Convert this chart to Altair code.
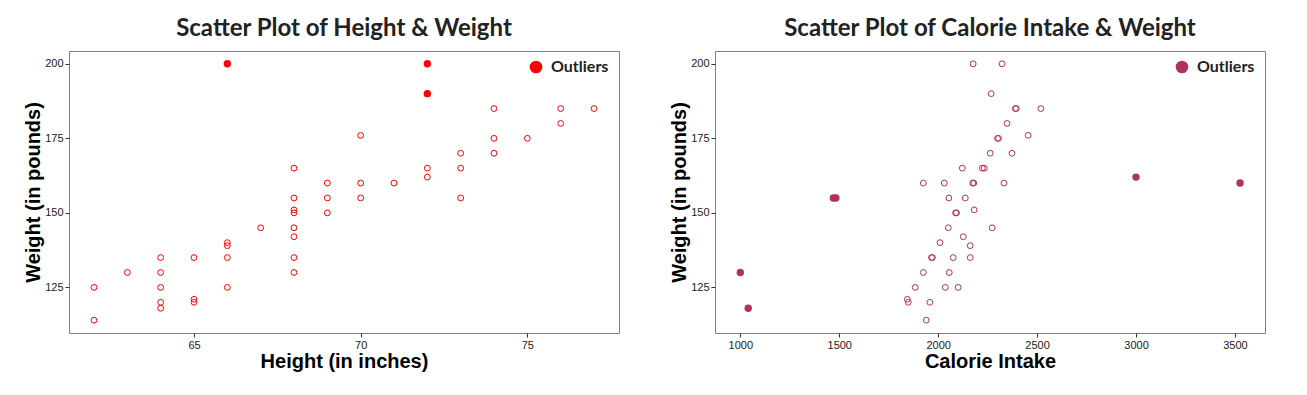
import altair as alt
import pandas as pd

# ---- Left panel: Height vs Weight ----
height_normal = [62, 62, 63, 64, 64, 64, 64, 64, 65, 65, 65, 66, 66, 66, 66, 67,
                 68, 68, 68, 68, 68, 68, 68, 68, 69, 69, 69, 70, 70, 70, 71, 72, 72,
                 73, 73, 73, 74, 74, 74, 75, 76, 76, 77]
weight_normal_h = [125, 114, 130, 135, 130, 125, 120, 118, 135, 121, 120, 140, 139, 135, 125, 145,
                   165, 155, 151, 150, 145, 142, 135, 130, 160, 155, 150, 176, 160, 155, 160, 165, 162,
                   170, 165, 155, 185, 175, 170, 175, 185, 180, 185]
height_outlier = [66, 72, 72]
weight_outlier_h = [200, 200, 190]

# ---- Right panel: Calorie intake vs Weight ----
calorie_normal = [2177, 2323, 2268, 2390, 2395, 2519, 2348, 2300, 2305, 2455, 2263, 2373,
                  2122, 2223, 2233, 1925, 2031, 2175, 2180, 2333, 2054, 2137, 2088, 2093,
                  2182, 2051, 2273, 2009, 2127, 2162, 1966, 1971, 2076, 2162, 1925, 2056,
                  1884, 2036, 2101, 1844, 1849, 1958, 1940]
weight_normal_c = [200, 200, 190, 185, 185, 185, 180, 175, 175, 176, 170, 170,
                   165, 165, 165, 160, 160, 160, 160, 160, 155, 155, 150, 150,
                   151, 145, 145, 140, 142, 139, 135, 135, 135, 135, 130, 130,
                   125, 125, 125, 121, 120, 120, 114]
calorie_outlier = [1000, 1040, 1470, 1483, 3000, 3526]
weight_outlier_c = [130, 118, 155, 155, 162, 160]

RED = "#FF0000"
MAROON = "#B03060"
W, H = 550, 282

def panel(xs_n, ys_n, xs_o, ys_o, color, xdom, xticks, xtitle, title, osize):
    dn = pd.DataFrame({"x": xs_n, "y": ys_n})
    do = pd.DataFrame({"x": xs_o, "y": ys_o, "kind": ["Outliers"] * len(xs_o)})
    xenc = alt.X("x:Q", title=xtitle,
                 scale=alt.Scale(domain=xdom, nice=False, zero=False),
                 axis=alt.Axis(values=xticks, format="d"))
    yenc = alt.Y("y:Q", title="Weight (in pounds)",
                 scale=alt.Scale(domain=[109.7, 204.3], nice=False, zero=False),
                 axis=alt.Axis(values=[125, 150, 175, 200], format="d"))
    normal = alt.Chart(dn).mark_point(shape="circle", filled=False, size=34,
                                      strokeWidth=1, color=color, opacity=1).encode(x=xenc, y=yenc)
    outl = alt.Chart(do).mark_circle(size=osize, opacity=1).encode(
        x="x:Q", y="y:Q",
        color=alt.Color("kind:N", scale=alt.Scale(domain=["Outliers"], range=[color]),
                        legend=alt.Legend(title=None, orient="none", legendX=459, legendY=8,
                                          symbolSize=160, symbolType="circle", symbolStrokeWidth=0,
                                          labelFont="Lato", labelFontSize=16, labelFontWeight="bold",
                                          labelColor="#222222", labelOffset=7, padding=0)))
    return alt.layer(normal, outl).properties(
        width=W, height=H,
        title=alt.TitleParams(title, fontSize=24, font="Lato", fontWeight="bold",
                              color="#222222", anchor="middle", offset=10))

left = panel(height_normal, weight_normal_h, height_outlier, weight_outlier_h, RED,
             [61.25, 77.75], [65, 70, 75], "Height (in inches)",
             "Scatter Plot of Height & Weight", 55)
right = panel(calorie_normal, weight_normal_c, calorie_outlier, weight_outlier_c, MAROON,
              [872, 3652], [1000, 1500, 2000, 2500, 3000, 3500], "Calorie Intake",
              "Scatter Plot of Calorie Intake & Weight", 55)

chart = alt.hconcat(left, right, spacing=49).resolve_scale(color="independent").resolve_legend(
    color="independent").properties(padding={"left": 15, "top": 8, "right": 5, "bottom": 5}).configure_view(
    stroke="#7f7f7f", strokeWidth=1).configure_axis(
    grid=False, domain=False, tickColor="#333333", tickSize=4, labelPadding=2,
    labelFont="Liberation Sans", labelFontSize=11, labelColor="#1a1a1a",
    titleFont="Liberation Sans", titleFontSize=20, titleFontWeight="bold", titleColor="#000000",
    titlePadding=1)

chart.save("out.html", embed_options={"renderer": "svg", "actions": False})
